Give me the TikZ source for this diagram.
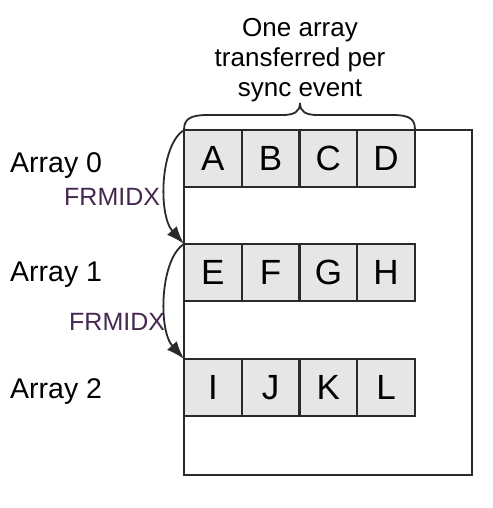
\documentclass[tikz,border=0pt]{standalone}
\usepackage{fontspec}
\setmainfont{Liberation Sans}
\usetikzlibrary{arrows.meta}
\definecolor{cellfill}{HTML}{E6E6E6}
\definecolor{linec}{HTML}{2A2A2A}
\definecolor{idxc}{HTML}{45284F}
\tikzset{
  cell/.style={draw=linec, line width=2.2pt, fill=cellfill, minimum width=57.75pt, minimum height=57pt, inner sep=0pt, outer sep=0pt, font=\fontsize{35}{35}\selectfont, anchor=north west},
  lbl/.style={font=\fontsize{28.5}{28.5}\selectfont, anchor=base west, inner sep=0pt},
  idx/.style={font=\fontsize{25}{25}\selectfont, anchor=base west, inner sep=0pt, text=idxc},
  toptxt/.style={font=\fontsize{26}{26}\selectfont, inner sep=0pt, anchor=base},
  conn/.style={draw=linec, line width=1.8pt, -{Latex[length=18pt,width=13pt]}}
}
\begin{document}
\begin{tikzpicture}[x=1pt,y=-1pt]
\useasboundingbox (0,0) rectangle (492,508);
% big memory block
\draw[linec, line width=2pt] (184,130) rectangle (472,475);
% cells
\foreach \r/\y/\a/\b/\c/\d in {0/130/A/B/C/D, 1/244/E/F/G/H, 2/359/I/J/K/L}{
  \node[cell] (c\r a) at (184,\y) {\a};
  \node[cell] (c\r b) at (241.75,\y) {\b};
  \node[cell] (c\r c) at (299.5,\y) {\c};
  \node[cell] (c\r d) at (357.25,\y) {\d};
}
% labels
\node[lbl] (l0) at (10,172) {Array 0};
\node[lbl] (l1) at (10,281) {Array 1};
\node[lbl] (l2) at (10,398) {Array 2};
\node[idx] (f0) at (64,205) {FRMIDX};
\node[idx] (f1) at (69,330) {FRMIDX};
% top text
\node[toptxt] (t1) at (300,37) {One array};
\node[toptxt] (t2) at (300,66.5) {transferred per};
\node[toptxt] (t3) at (300,96) {sync event};
% brace
\draw[linec, line width=1.8pt] (c0a.north west) .. controls (184,119) and (190,115) .. (208,115) -- (282,115) .. controls (294,115) and (300,112) .. (300,103)
  .. controls (300,112) and (306,115) .. (318,115) -- (392,115) .. controls (410,115) and (415,119) .. (c0d.north east);
% arrows
\draw[conn] (c0a.north west) .. controls (160,145) and (158,215) .. (c1a.north west);
\draw[conn] (c1a.north west) .. controls (160,259) and (158,330) .. (c2a.north west);
\end{tikzpicture}
\end{document}
